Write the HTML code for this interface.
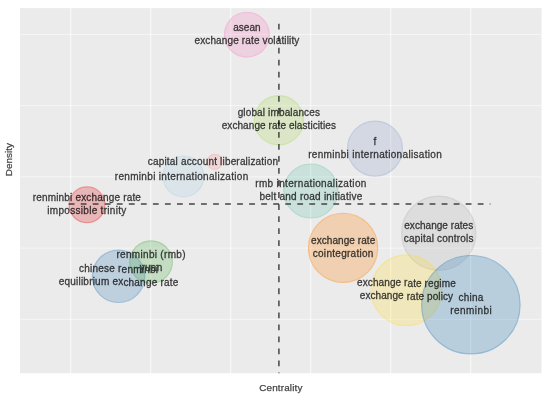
<!DOCTYPE html>
<html><head><meta charset="utf-8"><title>Thematic map</title>
<style>
html,body{margin:0;padding:0;background:#fff;}
svg{display:block;}
text{font-family:"Liberation Sans",sans-serif;}
.lab{font-size:10px;fill:#000;stroke:#000;stroke-width:0.3px;text-anchor:middle;opacity:0.78;}
.ax{font-size:9.9px;fill:#444;stroke:#444;stroke-width:0.25px;text-anchor:middle;}
</style></head><body>
<svg width="550" height="399" viewBox="0 0 550 399">
<rect x="0" y="0" width="550" height="399" fill="#fff"/>
<rect x="20.0" y="8.1" width="521.5" height="365.1" fill="#EBEBEB"/>
<g stroke="#fff" stroke-width="0.85" stroke-opacity="0.9" fill="none">
<line x1="70.8" y1="8.1" x2="70.8" y2="373.2"/>
<line x1="150.8" y1="8.1" x2="150.8" y2="373.2"/>
<line x1="230.8" y1="8.1" x2="230.8" y2="373.2"/>
<line x1="310.8" y1="8.1" x2="310.8" y2="373.2"/>
<line x1="390.8" y1="8.1" x2="390.8" y2="373.2"/>
<line x1="470.8" y1="8.1" x2="470.8" y2="373.2"/>
</g><g stroke="#fff" stroke-width="0.8" stroke-opacity="0.72" fill="none">
<line x1="20.0" y1="34.4" x2="541.5" y2="34.4"/>
<line x1="20.0" y1="105.6" x2="541.5" y2="105.6"/>
<line x1="20.0" y1="176.9" x2="541.5" y2="176.9"/>
<line x1="20.0" y1="248.1" x2="541.5" y2="248.1"/>
<line x1="20.0" y1="319.3" x2="541.5" y2="319.3"/>
</g>
<g>
<circle cx="246.9" cy="34.65" r="22.4" fill="#F781BF" fill-opacity="0.5" stroke="#F781BF" stroke-opacity="0.8" stroke-width="1.2" opacity="0.5"/>
<circle cx="278.8" cy="120.2" r="24.6" fill="#A6D854" fill-opacity="0.5" stroke="#A6D854" stroke-opacity="0.8" stroke-width="1.2" opacity="0.5"/>
<circle cx="375.0" cy="148.6" r="27.5" fill="#8DA0CB" fill-opacity="0.5" stroke="#8DA0CB" stroke-opacity="0.8" stroke-width="1.2" opacity="0.5"/>
<circle cx="183.4" cy="176.4" r="20.4" fill="#A6CEE3" fill-opacity="0.5" stroke="#A6CEE3" stroke-opacity="0.8" stroke-width="1.2" opacity="0.5"/>
<circle cx="214.8" cy="161.8" r="7.5" fill="#FB9A99" fill-opacity="0.5" stroke="#FB9A99" stroke-opacity="0.8" stroke-width="1.2" opacity="0.5"/>
<circle cx="310.8" cy="191.0" r="27.0" fill="#66C2A5" fill-opacity="0.5" stroke="#66C2A5" stroke-opacity="0.8" stroke-width="1.2" opacity="0.5"/>
<circle cx="87.0" cy="204.8" r="17.9" fill="#E41A1C" fill-opacity="0.5" stroke="#E41A1C" stroke-opacity="0.8" stroke-width="1.2" opacity="0.5"/>
<circle cx="438.7" cy="233.2" r="37.1" fill="#B3B3B3" fill-opacity="0.5" stroke="#B3B3B3" stroke-opacity="0.8" stroke-width="1.2" opacity="0.5"/>
<circle cx="343.1" cy="247.85" r="34.6" fill="#FF7F00" fill-opacity="0.5" stroke="#FF7F00" stroke-opacity="0.8" stroke-width="1.2" opacity="0.5"/>
<circle cx="406.4" cy="290.3" r="35.4" fill="#FFD92F" fill-opacity="0.5" stroke="#FFD92F" stroke-opacity="0.8" stroke-width="1.2" opacity="0.5"/>
<circle cx="118.5" cy="276.3" r="26.2" fill="#377EB8" fill-opacity="0.5" stroke="#377EB8" stroke-opacity="0.8" stroke-width="1.2" opacity="0.5"/>
<circle cx="151.0" cy="262.1" r="21.3" fill="#4DAF4A" fill-opacity="0.5" stroke="#4DAF4A" stroke-opacity="0.8" stroke-width="1.2" opacity="0.5"/>
<circle cx="470.9" cy="304.7" r="49.2" fill="#1F78B4" fill-opacity="0.5" stroke="#1F78B4" stroke-opacity="0.8" stroke-width="1.2" opacity="0.5"/>
</g>
<g stroke="#333" stroke-opacity="0.9" stroke-width="1.5" stroke-dasharray="5.8 6.23" fill="none">
<line x1="68.7" y1="204.0" x2="490.4" y2="204.0"/>
<line x1="278.9" y1="23.7" x2="278.9" y2="373.2"/>
</g>
<g class="lab">
<text x="246.9" y="30.8" transform="rotate(0.02 246.9 30.8)" textLength="27.2" lengthAdjust="spacing">asean</text>
<text x="246.9" y="43.8" transform="rotate(0.02 246.9 43.8)" textLength="104.9" lengthAdjust="spacing">exchange rate volatility</text>
<text x="278.8" y="116.4" transform="rotate(0.02 278.8 116.4)" textLength="82.3" lengthAdjust="spacing">global imbalances</text>
<text x="278.8" y="129.4" transform="rotate(0.02 278.8 129.4)" textLength="114.2" lengthAdjust="spacing">exchange rate elasticities</text>
<text x="375.0" y="144.8" transform="rotate(0.02 375.0 144.8)">f</text>
<text x="375.0" y="157.8" transform="rotate(0.02 375.0 157.8)" textLength="133.6" lengthAdjust="spacing">renminbi internationalisation</text>
<text x="181.5" y="179.8" transform="rotate(0.02 181.5 179.8)" textLength="133.5" lengthAdjust="spacing">renminbi internationalization</text>
<text x="212.9" y="165.2" transform="rotate(0.02 212.9 165.2)" textLength="130.2" lengthAdjust="spacing">capital account liberalization</text>
<text x="310.8" y="187.2" transform="rotate(0.02 310.8 187.2)" textLength="111.1" lengthAdjust="spacing">rmb internationalization</text>
<text x="310.8" y="200.2" transform="rotate(0.02 310.8 200.2)" textLength="102.8" lengthAdjust="spacing">belt and road initiative</text>
<text x="86.8" y="201.0" transform="rotate(0.02 86.8 201.0)" textLength="108.3" lengthAdjust="spacing">renminbi exchange rate</text>
<text x="86.8" y="214.0" transform="rotate(0.02 86.8 214.0)" textLength="78.9" lengthAdjust="spacing">impossible trinity</text>
<text x="438.7" y="229.4" transform="rotate(0.02 438.7 229.4)" textLength="68.9" lengthAdjust="spacing">exchange rates</text>
<text x="438.7" y="242.4" transform="rotate(0.02 438.7 242.4)" textLength="69.7" lengthAdjust="spacing">capital controls</text>
<text x="343.1" y="244.0" transform="rotate(0.02 343.1 244.0)" textLength="64.2" lengthAdjust="spacing">exchange rate</text>
<text x="343.1" y="257.1" transform="rotate(0.02 343.1 257.1)" textLength="60.7" lengthAdjust="spacing">cointegration</text>
<text x="406.4" y="286.5" transform="rotate(0.02 406.4 286.5)" textLength="98.6" lengthAdjust="spacing">exchange rate regime</text>
<text x="406.4" y="299.5" transform="rotate(0.02 406.4 299.5)" textLength="93.3" lengthAdjust="spacing">exchange rate policy</text>
<text x="118.5" y="272.5" transform="rotate(0.02 118.5 272.5)" textLength="79.0" lengthAdjust="spacing">chinese renminbi</text>
<text x="118.5" y="285.5" transform="rotate(0.02 118.5 285.5)" textLength="119.5" lengthAdjust="spacing">equilibrium exchange rate</text>
<text x="151.0" y="258.3" transform="rotate(0.02 151.0 258.3)" textLength="69.1" lengthAdjust="spacing">renminbi (rmb)</text>
<text x="151.0" y="271.3" transform="rotate(0.02 151.0 271.3)" textLength="22.5" lengthAdjust="spacing">yuan</text>
<text x="470.9" y="300.9" transform="rotate(0.02 470.9 300.9)" textLength="24.7" lengthAdjust="spacing">china</text>
<text x="470.9" y="313.9" transform="rotate(0.02 470.9 313.9)" textLength="41.5" lengthAdjust="spacing">renminbi</text>
</g>
<text class="ax" x="280.8" y="391.4" textLength="43.3" lengthAdjust="spacing">Centrality</text>
<text class="ax" transform="translate(12.4,159.6) rotate(-90)" textLength="33.2" lengthAdjust="spacing">Density</text>
</svg></body></html>
